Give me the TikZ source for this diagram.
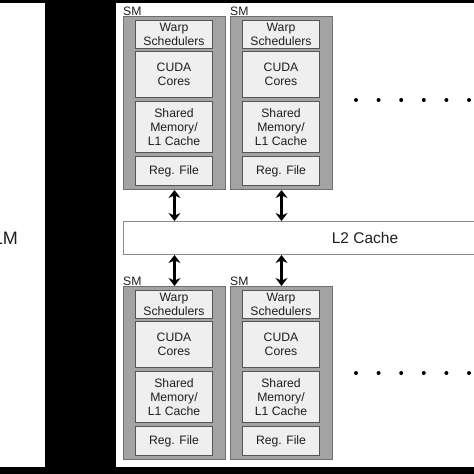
\documentclass[tikz,border=0pt]{standalone}
\usepackage{fontspec}
\setmainfont{Liberation Sans}
\usepackage{tikz}
\usetikzlibrary{arrows.meta,positioning,calc}
\definecolor{smgray}{HTML}{A3A3A3}
\definecolor{smedge}{HTML}{707070}
\definecolor{unitfill}{HTML}{EFEFEF}
\definecolor{unitedge}{HTML}{555555}
\definecolor{inktext}{HTML}{1E1E1E}
\definecolor{l2edge}{HTML}{8A8A8A}
\newcommand{\unitfont}{\fontsize{12.2}{13.8}\selectfont}

\begin{document}
\begin{tikzpicture}[x=1pt,y=-1pt,
    smbox/.style={draw=smedge,fill=smgray,line width=1pt,minimum width=102pt,
      minimum height=173pt,anchor=north west,inner sep=0pt},
    unitbox/.style={draw=unitedge,fill=unitfill,line width=1.2pt,minimum width=77pt,
      anchor=north,align=center,inner sep=0pt,font=\unitfont,text=inktext},
    smlabel/.style={anchor=base west,inner sep=0pt,font=\unitfont,text=inktext},
    busarrow/.style={{Stealth[length=8pt,width=12pt]}-{Stealth[length=8pt,width=12pt]},
      line width=2.6pt}]
      \useasboundingbox (0,0) rectangle (474,474);
      % panels
      \fill[black] (0,0) rectangle (474,474);
      \fill[white] (0,3) rectangle (45,467);
      \fill[white] (116,3) rectangle (474,467);
      \node[anchor=base east,inner sep=0pt,font=\fontsize{18}{20}\selectfont,text=inktext]
        (mem) at (18,244) {LM};
      % streaming multiprocessors
      \foreach \r/\dy in {T/0,B/270}{
        \foreach \c/\dx in {1/0,2/107}{
          \node[smbox] (sm\r\c) at (123+\dx,16+\dy) {};
          \node[smlabel] (lbl\r\c) at (123+\dx,15+\dy) {SM};
          \node[unitbox,minimum height=28pt] (warp\r\c) at (174+\dx,20+\dy) {Warp\\Schedulers};
          \node[unitbox,minimum height=46pt] (cuda\r\c) at (174+\dx,51+\dy) {CUDA\\Cores};
          \node[unitbox,minimum height=51pt] (shm\r\c) at (174+\dx,101+\dy) {Shared\\Memory/\\L1 Cache};
          \node[unitbox,minimum height=29pt] (reg\r\c) at (174+\dx,156+\dy) {Reg. File};
        }
      }
      % shared L2
      \node[draw=l2edge,fill=white,line width=1pt,minimum width=360pt,minimum height=33pt,
        anchor=north west,inner sep=0pt] (l2) at (123,221) {};
      \node[font=\fontsize{15.5}{17}\selectfont,text=inktext] (l2name) at (365,238) {L2 Cache};
      \draw[busarrow] (smT1.south) -- (smT1.south |- l2.north);
      \draw[busarrow] (smT2.south) -- (smT2.south |- l2.north);
      \draw[busarrow] (smB1.north |- l2.south) -- (smB1.north);
      \draw[busarrow] (smB2.north |- l2.south) -- (smB2.north);
      % more SMs
      \foreach \k in {0,...,5}{
        \fill (356+22.6*\k,100) circle (2pt);
        \fill (356+22.6*\k,373) circle (2pt);
      }
    \end{tikzpicture}
\end{document}
